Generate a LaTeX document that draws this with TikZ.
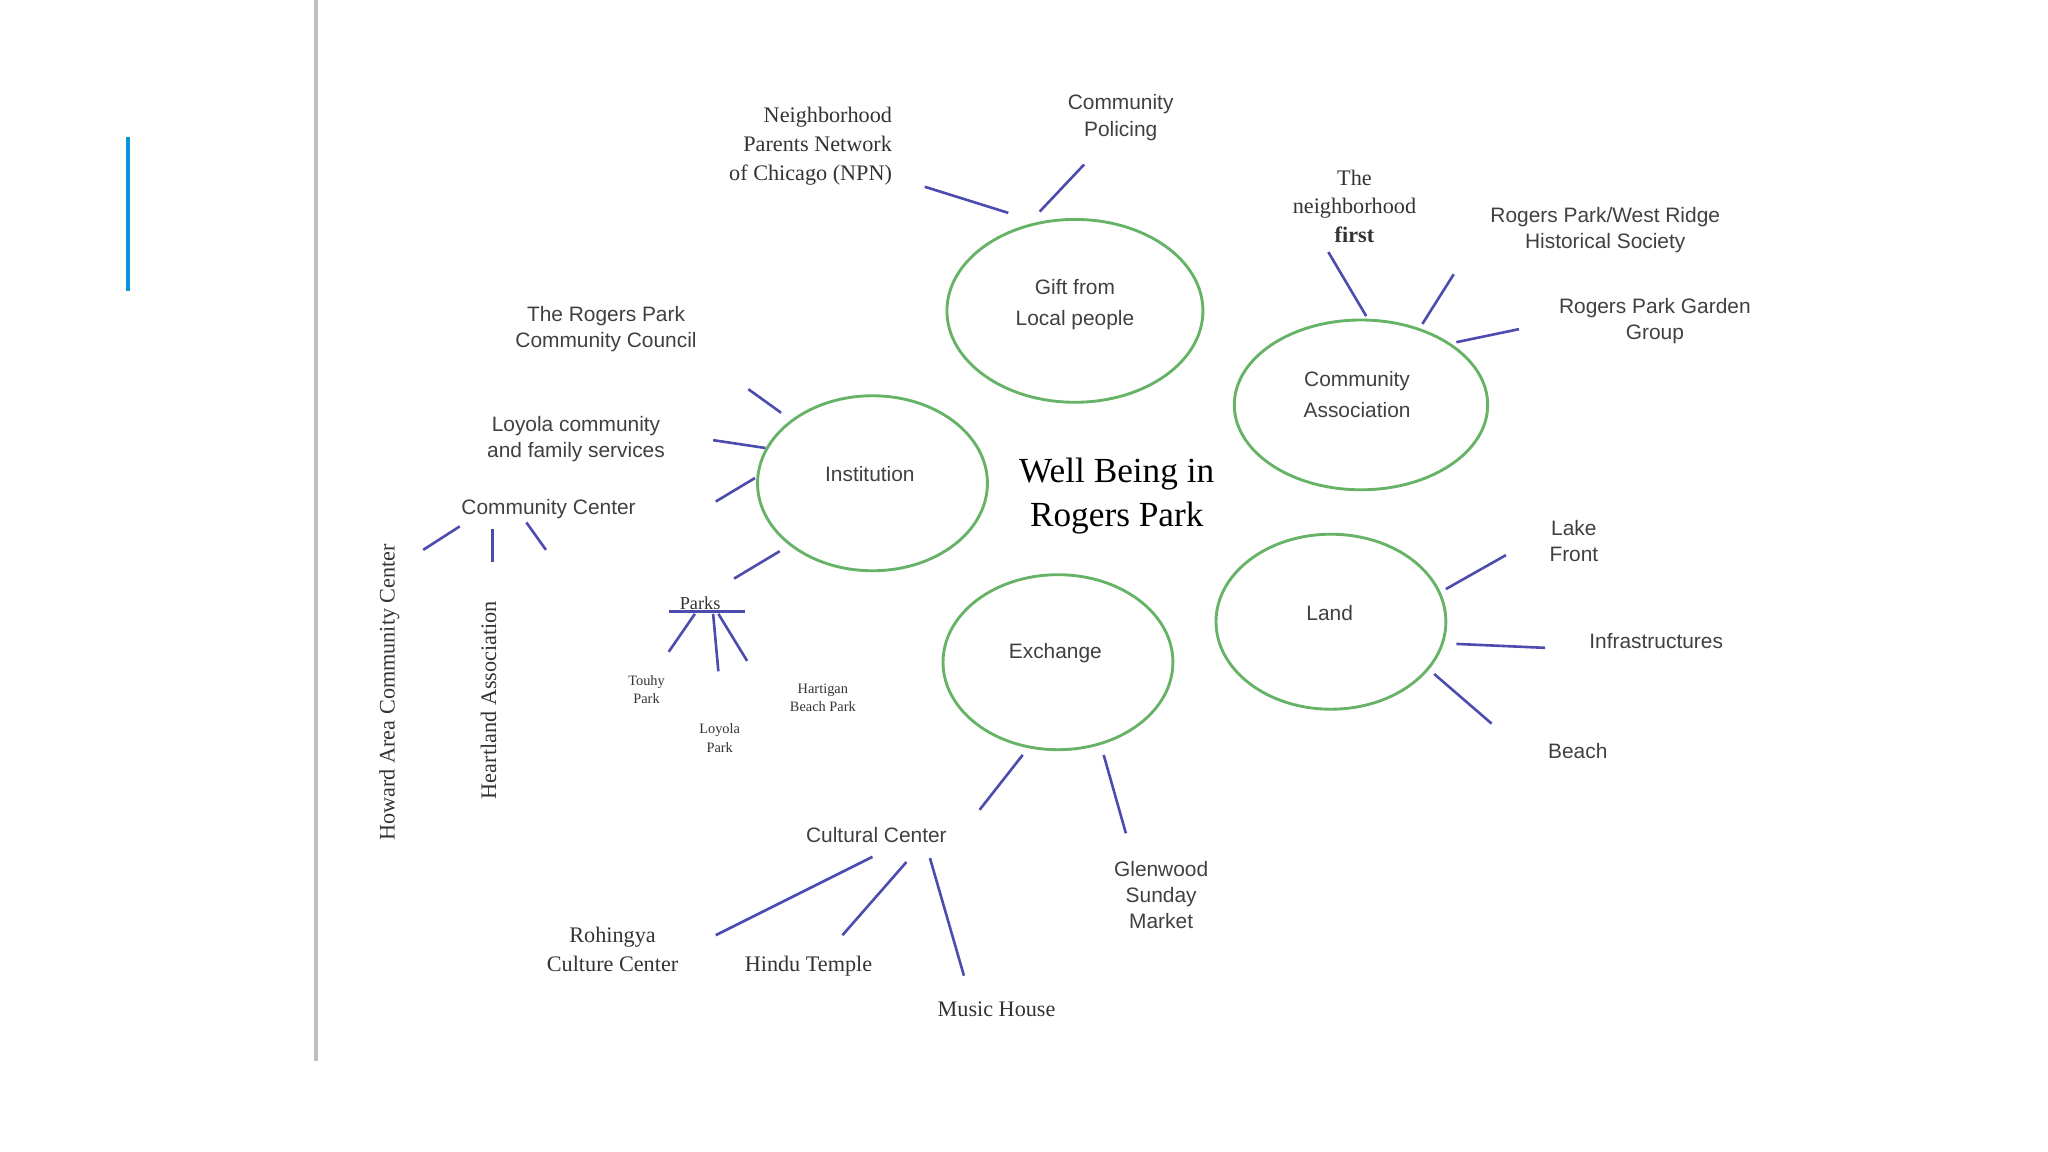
\documentclass[tikz,border=0pt]{standalone}
\usepackage{fontspec}
\setmainfont{Liberation Serif}
\setsansfont{Liberation Sans}
\begin{document}
\begin{tikzpicture}[x=0.5pt,y=-0.5pt,
  ell/.style={draw=green!50!black!60!white,line width=1.1pt},
  lk/.style={draw=blue!55!black!70!white,line width=1pt},
  sl/.style={font=\sffamily\fontsize{8}{10}\selectfont,color=black!75,align=center},
  rl/.style={font=\fontsize{8.5}{11}\selectfont,color=black!80,align=center}]
\useasboundingbox (0,0) rectangle (1568,882);
\draw[black!25,line width=1.5pt] (242,0) -- (242,812);
\draw[cyan!80!blue,line width=1.2pt] (98,105) -- (98,223);
% ellipses
\draw[ell] (823,238) ellipse (98 and 70);
\draw[ell] (668,370) ellipse (88 and 67);
\draw[ell] (1042,310) ellipse (97 and 65);
\draw[ell] (1019,476) ellipse (88 and 67);
\draw[ell] (810,507) ellipse (88 and 67);
\node[sl] (gift) at (823,233) {Gift from\\[2pt]Local people};
\node[sl] (inst) at (666,363) {Institution};
\node[sl] (ca) at (1039,302) {Community\\[2pt]Association};
\node[sl] (land) at (1018,469) {Land};
\node[sl] (exch) at (808,500) {Exchange};
\node[font=\fontsize{13.5}{17}\selectfont,align=center] (wb) at (855,380) {Well Being in\\Rogers Park};
% labels
\node[rl,align=right,anchor=east] (npn) at (690,112) {Neighborhood\\Parents Network\\of Chicago (NPN)};
\node[sl] (cp) at (858,90) {Community\\Policing};
\node[rl] (nf) at (1037,158) {The\\neighborhood\\\textbf{first}};
\node[sl] (rpw) at (1229,176) {Rogers Park/West Ridge\\Historical Society};
\node[sl] (rpg) at (1267,246) {Rogers Park Garden\\Group};
\node[sl] (rpc) at (464,252) {The Rogers Park\\Community Council};
\node[sl] (lcf) at (441,336) {Loyola community\\and family services};
\node[sl] (cc) at (420,390) {Community Center};
\node[rl,rotate=90] (hacc) at (298,530) {Howard Area Community Center};
\node[rl,rotate=90] (ha) at (374,536) {Heartland Association};
\node[rl,font=\fontsize{7}{8}\selectfont] (parks) at (536,462) {Parks};
\node[rl,font=\fontsize{5.5}{7}\selectfont] (tp) at (495,528) {Touhy\\Park};
\node[rl,font=\fontsize{5.5}{7}\selectfont] (lp) at (551,565) {Loyola\\Park};
\node[rl,font=\fontsize{5.5}{7}\selectfont] (hp) at (630,534) {Hartigan\\Beach Park};
\node[sl] (cuc) at (671,639) {Cultural Center};
\node[rl] (rcc) at (469,727) {Rohingya\\Culture Center};
\node[rl] (ht) at (619,740) {Hindu Temple};
\node[rl] (mh) at (763,773) {Music House};
\node[sl] (gsm) at (889,685) {Glenwood\\Sunday\\Market};
\node[sl] (lf) at (1205,414) {Lake\\Front};
\node[sl] (inf) at (1268,491) {Infrastructures};
\node[sl] (bch) at (1208,575) {Beach};
% connector ends
\foreach \n/\p in {a1/{708,143},a2/{772,163},b1/{830,126},b2/{796,162},
 c1/{1017,193},c2/{1046,242},d1/{1113,210},d2/{1089,248},e1/{1163,252},e2/{1115,262},
 f1/{573,298},f2/{598,316},g1/{546,337},g2/{586,343},h1/{548,384},h2/{578,366},i1/{562,443},i2/{597,422},
 j1/{324,421},j2/{352,403},k1/{377,405},k2/{377,430},l1/{403,400},l2/{418,421},
 m1/{512,468},m2/{570,468},n1/{512,499},n2/{532,470},o1/{550,514},o2/{546,470},p1/{572,506},p2/{550,470},
 q1/{750,620},q2/{783,578},r1/{862,638},r2/{845,578},
 s1/{548,716},s2/{668,656},t1/{645,716},t2/{694,660},u1/{738,747},u2/{712,657},
 v1/{1107,451},v2/{1153,425},w1/{1115,493},w2/{1183,496},x1/{1098,516},x2/{1142,554}}
 {\coordinate (\n) at (\p);}
\foreach \a/\b in {a1/a2,b1/b2,c1/c2,d1/d2,e1/e2,f1/f2,g1/g2,h1/h2,i1/i2,j1/j2,k1/k2,l1/l2,
 m1/m2,n1/n2,o1/o2,p1/p2,q1/q2,r1/r2,s1/s2,t1/t2,u1/u2,v1/v2,w1/w2,x1/x2}
 \draw[lk] (\a) -- (\b);
\end{tikzpicture}
\end{document}
